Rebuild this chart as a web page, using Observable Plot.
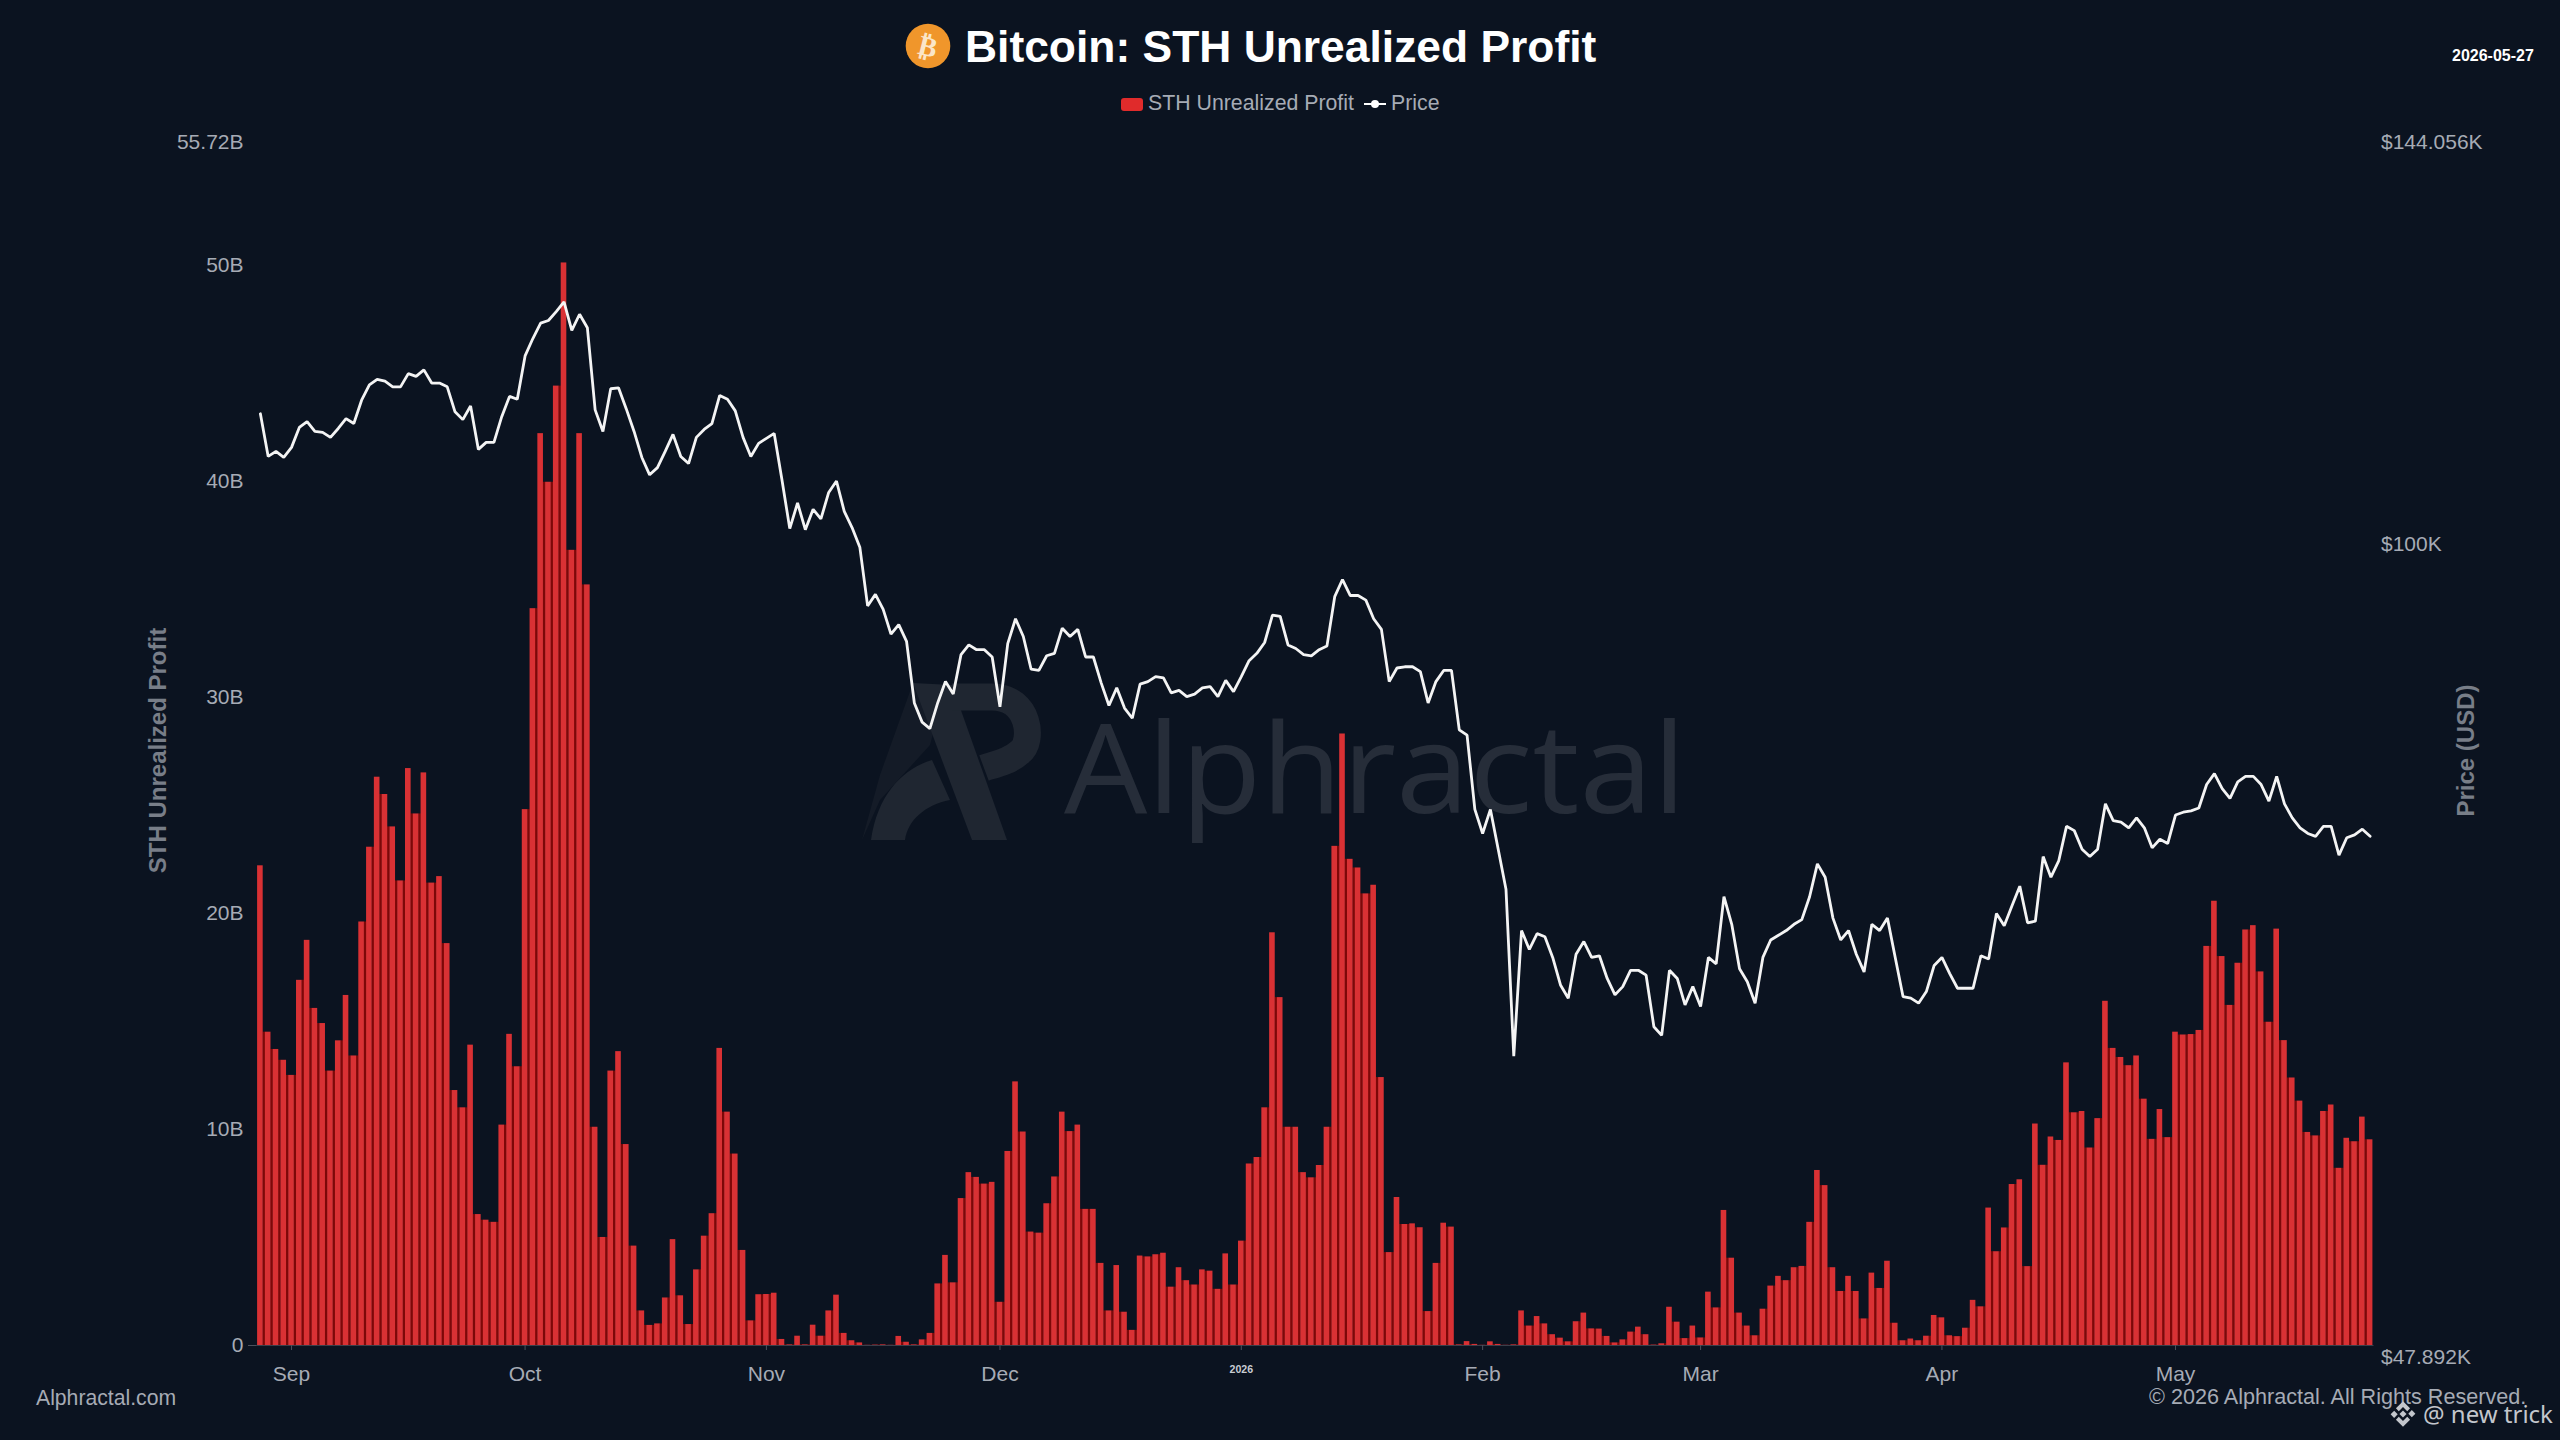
<!DOCTYPE html>
<html>
<head>
<meta charset="utf-8">
<script src="https://cdn.jsdelivr.net/npm/d3@7"></script>
<script src="https://cdn.jsdelivr.net/npm/@observablehq/plot@0.6"></script>
<style>
html,body{margin:0;padding:0;background:#0b1320;}
#page{position:relative;width:2560px;height:1440px;overflow:hidden;background:#0b1320;font-family:"Liberation Sans",Arial,sans-serif;}
#page>*{position:absolute;}
.t{white-space:nowrap;line-height:1;transform:translateY(-50%);}
#bars svg,#price svg{display:block;}
#bars,#price{left:0;top:0;}
</style>
</head>
<body>
<div id="page">
  <svg id="wm" style="left:0;top:0" width="2560" height="1440">
    <g fill="#1a212c">
      <path d="M913 683 L880 775 L862 840 L880 800 L930 745 L942 700 Z" fill="#141b27"/>
      <path d="M871 840 C878 792 905 768 932 760 L950 800 C925 805 908 820 905 840 Z" fill="#1f2631"/>
      <path d="M913 683 L952 685 L1007 840 L972 840 Z" fill="#1f2631"/>
      <path d="M952 697 L992 697 C1030 697 1034 742 1020 752 C1008 763 992 765 984 768" fill="none" stroke="#1f2631" stroke-width="27"/>
    </g>
    <text x="1064" y="813" font-family="Open Sans" font-weight="400" font-size="124" fill="#262d39" textLength="622" lengthAdjust="spacingAndGlyphs">Alphractal</text>
  </svg>
  <div id="bars"></div>
  <div id="price"></div>

  <svg style="left:905px;top:23px" width="46" height="46">
    <circle cx="23" cy="23" r="22.3" fill="#f0962b"/>
    <text x="23" y="33" text-anchor="middle" font-family="DejaVu Sans" font-weight="bold" font-size="28" fill="#fbe6c8" transform="rotate(14 23 23)">₿</text>
  </svg>
  <div class="t" style="left:965px;top:47px;font-size:44.4px;font-weight:bold;color:#fff">Bitcoin: STH Unrealized Profit</div>
  <div class="t" style="left:2452px;top:56px;font-size:16px;font-weight:bold;color:#fff">2026-05-27</div>

  <div style="left:1121px;top:98px;width:22px;height:13px;border-radius:3px;background:#e02b2b"></div>
  <div class="t" style="left:1148px;top:103.5px;font-size:21.3px;color:#a6abb5">STH Unrealized Profit</div>
  <svg style="left:1362px;top:96px" width="26" height="16">
    <line x1="2" x2="24" y1="8" y2="8" stroke="#fff" stroke-width="2"/><circle cx="13" cy="8" r="4" fill="#fff"/>
  </svg>
  <div class="t" style="left:1391px;top:103.5px;font-size:21.3px;color:#a6abb5">Price</div>

  <div class="t" style="left:36px;top:1398px;font-size:21.2px;color:#a6abb5">Alphractal.com</div>
  <div class="t" style="left:2149px;top:1397px;font-size:21.6px;color:#a6abb5">© 2026 Alphractal. All Rights Reserved.</div>
  <svg style="left:2389px;top:1400px" width="28" height="28">
    <g fill="#c3c6cc" transform="translate(14 14) rotate(45)">
      <path d="M-9 -9 H1 V-5 H-5 V1 H-9 Z"/><path d="M9 9 H-1 V5 H5 V-1 H9 Z"/>
      <rect x="-2.5" y="-2.5" width="5" height="5"/>
      <rect x="3.5" y="-9" width="5" height="5"/><rect x="-8.5" y="4" width="5" height="5"/>
    </g>
  </svg>
  <div class="t" style="left:2423px;top:1414px;font-size:24px;color:#c3c6cc;font-family:'Noto Sans'">@ new trick</div>
</div>

<script>
const firstDay = new Date(Date.UTC(2025, 7, 28));
const dayMs = 864e5;

const profitB = [
22.2,14.5,13.7,13.2,12.5,16.9,18.75,15.6,14.9,12.7,
14.1,16.2,13.4,19.6,23.06,26.3,25.5,24.0,21.5,26.7,
24.6,26.5,21.4,21.7,18.6,11.8,11.0,13.9,6.06,5.8,
5.7,10.2,14.4,12.9,24.8,34.1,42.2,39.95,44.4,50.1,
36.8,42.2,35.2,10.1,5.0,12.7,13.6,9.3,4.6,1.6,
0.93,1.0,2.2,4.9,2.3,0.97,3.5,5.06,6.1,13.75,
10.8,8.86,4.4,1.14,2.35,2.36,2.42,0.28,0.03,0.43,
0.03,0.94,0.43,1.6,2.33,0.56,0.22,0.12,0.01,0.02,
0.03,0.01,0.42,0.15,0.03,0.26,0.56,2.85,4.17,2.9,
6.8,8.0,7.78,7.47,7.55,2.0,8.98,12.2,9.88,5.25,
5.2,6.56,7.8,10.8,9.9,10.2,6.3,6.3,3.8,1.6,
3.7,1.54,0.7,4.14,4.1,4.2,4.27,2.7,3.6,3.0,
2.8,3.5,3.44,2.6,4.24,2.8,4.83,8.4,8.7,11.0,
19.1,16.1,10.1,10.1,8.0,7.76,8.33,10.1,23.1,28.3,
22.5,22.1,20.9,21.3,12.4,4.3,6.85,5.6,5.63,5.45,
1.57,3.8,5.66,5.48,0.03,0.18,0.05,0.01,0.17,0.05,
0.01,0.03,1.6,0.9,1.34,1.0,0.5,0.34,0.17,1.1,
1.5,0.77,0.76,0.42,0.12,0.26,0.62,0.85,0.5,0.02,
0.08,1.77,1.08,0.32,0.9,0.35,2.47,1.74,6.25,4.04,
1.5,0.9,0.45,1.68,2.75,3.2,3.0,3.6,3.66,5.7,
8.1,7.4,3.6,2.5,3.2,2.5,1.23,3.35,2.64,3.9,
1.03,0.22,0.3,0.22,0.43,1.39,1.28,0.45,0.41,0.8,
2.09,1.79,6.36,4.34,5.44,7.45,7.67,3.65,10.25,8.34,
9.65,9.49,13.08,10.77,10.83,9.14,10.5,15.93,13.75,13.33,
12.95,13.4,11.4,9.54,10.92,9.62,14.5,14.37,14.39,14.58,
18.47,20.56,18.0,15.74,17.69,19.23,19.43,17.29,14.96,19.27,
14.11,12.38,11.31,9.86,9.7,10.83,11.13,8.2,9.59,9.43,10.57,9.52
];

const priceK = [
112.3,108.0,108.5,107.9,108.9,110.9,111.5,110.5,110.4,109.9,
110.8,111.8,111.3,113.7,115.3,115.9,115.7,115.1,115.1,116.5,
116.2,116.9,115.5,115.5,115.1,112.5,111.7,113.1,108.7,109.4,
109.4,112.0,114.1,113.8,118.4,120.3,122.0,122.3,123.3,124.4,
121.2,123.0,121.5,112.7,110.5,114.9,115.0,112.8,110.5,107.9,
106.2,106.9,108.5,110.2,108.0,107.3,109.9,110.7,111.3,114.2,
113.8,112.6,109.9,108.0,109.3,109.8,110.3,105.7,101.1,103.5,
101.0,102.9,102.0,104.5,105.6,102.7,101.2,99.4,94.2,95.2,
93.9,91.8,92.6,91.2,86.2,84.7,84.2,86.2,87.9,86.9,
90.1,90.9,90.5,90.5,89.9,85.9,91.0,93.1,91.6,88.9,
88.8,90.0,90.2,92.3,91.6,92.2,89.9,89.9,87.8,86.0,
87.4,85.8,85.0,87.7,87.9,88.3,88.2,87.0,87.2,86.7,
86.9,87.4,87.5,86.7,88.0,87.1,88.3,89.6,90.2,91.1,
93.4,93.3,90.9,90.6,90.1,90.0,90.5,90.8,95.0,96.5,
95.1,95.1,94.7,93.1,92.2,87.9,89.0,89.1,89.1,88.7,
86.2,87.9,88.8,88.8,84.1,83.7,78.2,76.5,78.2,75.4,
72.7,62.4,70.0,68.8,69.8,69.6,68.3,66.6,65.8,68.5,
69.3,68.3,68.4,67.0,66.0,66.5,67.5,67.5,67.2,64.1,
63.6,67.5,67.0,65.4,66.5,65.3,68.3,67.9,72.2,70.4,
67.6,66.8,65.5,68.3,69.4,69.7,70.0,70.4,70.7,72.2,
74.4,73.5,70.8,69.4,70.0,68.5,67.4,70.4,70.0,70.8,
68.3,65.9,65.8,65.5,66.2,67.8,68.3,67.3,66.4,66.4,
66.4,68.4,68.2,71.1,70.3,71.6,72.9,70.5,70.6,74.9,
73.5,74.6,77.0,76.7,75.4,74.9,75.4,78.6,77.4,77.3,
76.9,77.6,76.9,75.5,76.1,75.8,77.8,78.0,78.1,78.3,
80.0,80.8,79.7,79.0,80.2,80.6,80.6,80.0,78.8,80.6,
78.6,77.6,76.9,76.5,76.3,77.0,77.0,75.0,76.2,76.4,76.8,76.3
];

const monthTicks = [[2025,8],[2025,9],[2025,10],[2025,11],[2026,1],[2026,2],[2026,3],[2026,4]]
  .map(([y,m]) => new Date(Date.UTC(y,m,1)));
const yearTick = [new Date(Date.UTC(2026,0,1))];
const leftTicks = [10,20,30,40,50];
const leftTopTick = [55.72];
const rightTopTicks = [144.056];
const rightMidTicks = [100];
const rightBottomTicks = [47.892];

const days = profitB.map((_, i) => new Date(+firstDay + i * dayMs));
const xDomain = [new Date(+firstDay - dayMs/2), new Date(+days[days.length-1] + dayMs/2)];

const bars = days.map((date, i) => ({date, v: profitB[i],
  x1: new Date(+date - 0.36*dayMs), x2: new Date(+date + 0.36*dayMs)}));
const gaps = days.slice(1).map((date, i) => ({
  x1: new Date(+date - 0.66*dayMs), x2: new Date(+date - 0.34*dayMs),
  v: Math.min(profitB[i], profitB[i+1])}));
const priceRows = days.map((date, i) => ({date, p: priceK[i]}));

const W = 2560, H = 1440, mL = 256, mR = 186.5, mT = 141, mB = 95;
const FONT = "Liberation Sans, Arial, sans-serif";
const GREY = "#a6abb5", DIM = "#787e88", TICK = "#4b515c";
const base = {width: W, height: H, marginLeft: mL, marginRight: mR, marginTop: mT, marginBottom: mB,
  style: {background: "transparent", fontFamily: FONT, fontSize: "21px", color: GREY}};

document.getElementById("bars").append(Plot.plot({
  ...base,
  x: {type: "utc", domain: xDomain, axis: null},
  y: {domain: [0, 55.72], axis: null},
  marks: [
    Plot.ruleY([0], {stroke: "#3a404b", strokeWidth: 1}),
    Plot.rectY(gaps, {x1: "x1", x2: "x2", y: "v", fill: "#7d0808"}),
    Plot.rectY(bars, {x1: "x1", x2: "x2", y: "v", fill: "#d93134"}),
    Plot.axisY(leftTicks, {anchor: "left", tickSize: 0, tickPadding: 13, fontSize: 21, fill: GREY,
      tickFormat: d => d + "B", label: null}),
    Plot.axisY(leftTopTick, {anchor: "left", tickSize: 0, tickPadding: 13, fontSize: 21, fill: GREY, dy: 1,
      tickFormat: d => d + "B", label: null}),
    Plot.axisY([0], {anchor: "left", tickSize: 8, tickPadding: 5, fontSize: 21, fill: GREY, stroke: TICK,
      tickFormat: d => String(d), label: null}),
    Plot.axisX(monthTicks, {anchor: "bottom", tickSize: 5, tickPadding: 16, fontSize: 21, fill: GREY, stroke: TICK,
      tickFormat: d3.utcFormat("%b"), label: null}),
    Plot.axisX(yearTick, {anchor: "bottom", tickSize: 5, tickPadding: 15, fontSize: 10.6, fontWeight: "bold", fill: "#c8ccd3", stroke: TICK,
      tickFormat: () => "2026", label: null}),
    Plot.text(["STH Unrealized Profit"], {frameAnchor: "left", textAnchor: "middle", rotate: -90, dx: -98, dy: 7, fontSize: 24, fontWeight: "bold", fill: DIM})
  ]
}));

document.getElementById("price").append(Plot.plot({
  ...base,
  x: {type: "utc", domain: xDomain, axis: null},
  y: {type: "log", domain: [47.892, 144.056], axis: null},
  marks: [
    Plot.line(priceRows, {x: "date", y: "p", stroke: "#f4f4f4", strokeWidth: 2.8, strokeLinejoin: "miter"}),
    Plot.axisY(rightTopTicks, {anchor: "right", tickSize: 0, tickPadding: 7, fontSize: 21, fill: GREY, dy: 1,
      tickFormat: d => "$" + d + "K", label: null}),
    Plot.axisY(rightMidTicks, {anchor: "right", tickSize: 0, tickPadding: 7, fontSize: 21, fill: GREY, dy: 4,
      tickFormat: d => "$" + d + "K", label: null}),
    Plot.axisY(rightBottomTicks, {anchor: "right", tickSize: 0, tickPadding: 7, fontSize: 21, fill: GREY, dy: 12,
      tickFormat: d => "$" + d + "K", label: null}),
    Plot.text(["Price (USD)"], {frameAnchor: "right", textAnchor: "middle", rotate: -90, dx: 92, dy: 7, fontSize: 24, fontWeight: "bold", fill: DIM})
  ]
}));
</script>
</body>
</html>
